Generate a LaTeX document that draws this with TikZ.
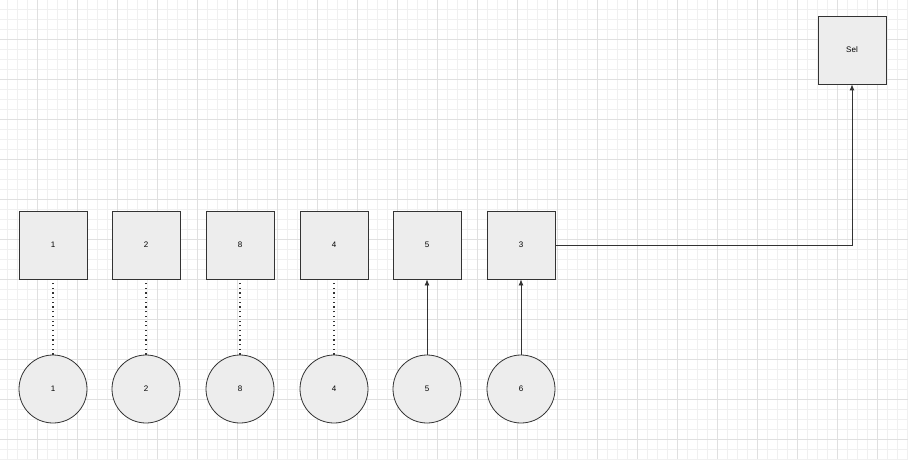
\documentclass[tikz,border=0pt]{standalone}
\usepackage{fontspec}
\setmainfont{Liberation Sans}
\usetikzlibrary{arrows.meta}
\begin{document}
\begin{tikzpicture}[x=1pt,y=-1pt,
  box/.style={draw=black!80,fill=black!7,minimum size=68pt,inner sep=0pt,font=\fontsize{8}{9}\selectfont,line width=0.8pt},
  circ/.style={draw=black!80,fill=black!7,circle,minimum size=68pt,inner sep=0pt,font=\fontsize{8}{9}\selectfont,line width=0.8pt},
  dotline/.style={dash pattern=on 1.2pt off 3.5pt,line width=1.4pt,black!80},
  arr/.style={-{Latex[length=6pt,width=5pt]},line width=0.8pt,black!80}]
\useasboundingbox (0,0) rectangle (908,460);
\fill[white] (0,0) rectangle (908,460);
\begin{scope}
\clip (0,0) rectangle (908,460);
\draw[black!6,line width=0.4pt,step=10pt,shift={(-3pt,1pt)}] (0,0) grid (911,460);
\draw[black!12,line width=0.4pt,step=40pt,shift={(-3pt,1pt)}] (0,0) grid (911,460);
\end{scope}
\foreach \n/\x/\t in {a/53/1,b/146/2,c/240/8,d/334/4,e/427/5,f/521/3}{
  \node[box] (s\n) at (\x,245) {\t};}
\foreach \n/\x/\t in {a/53/1,b/146/2,c/240/8,d/334/4,e/427/5,f/521/6}{
  \node[circ] (c\n) at (\x,389) {\t};}
\node[box] (sel) at (852,50) {Sel};
\foreach \n in {a,b,c,d}{\draw[dotline] (c\n) -- (s\n);}
\draw[arr] (ce) -- (se);
\draw[arr] (cf) -- (sf);
\draw[arr] (sf.east) -| (sel.south);
\end{tikzpicture}
\end{document}
